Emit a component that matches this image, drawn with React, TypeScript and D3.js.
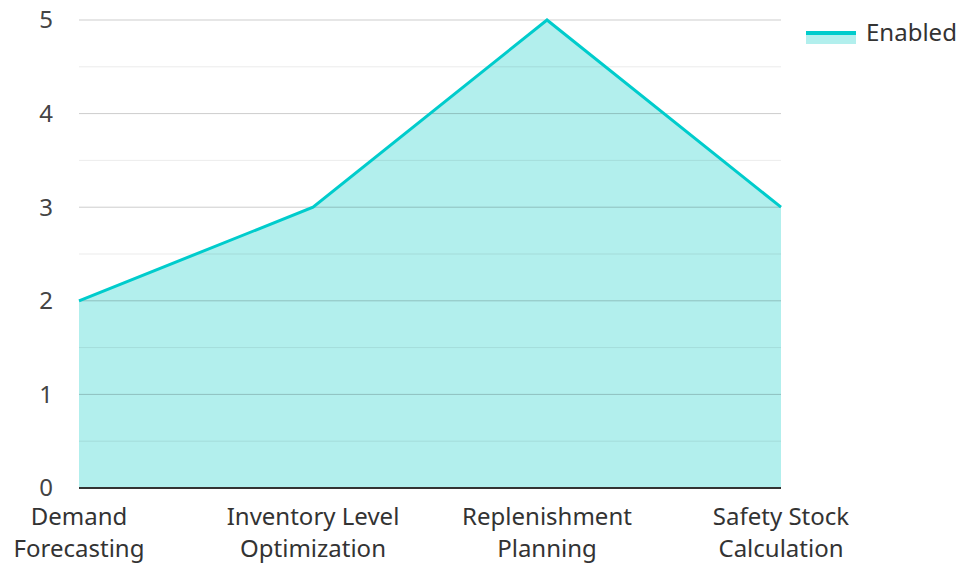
import React, { useRef, useEffect } from 'react';
import * as d3 from 'd3';

const categories = ['Demand\nForecasting', 'Inventory Level\nOptimization', 'Replenishment\nPlanning', 'Safety Stock\nCalculation'];
const enabledValues = [2, 3, 5, 3];
const yTicks = [0, 1, 2, 3, 4, 5];
const seriesName = 'Enabled';

const App = () => {
  const ref = useRef<SVGSVGElement | null>(null);

  useEffect(() => {
    if (!ref.current) return;
    const width = 962;
    const height = 563;
    const margin = { top: 20, right: 181, bottom: 75, left: 79 };
    const font = '"Noto Sans", "Open Sans", sans-serif';

    const svg = d3.select(ref.current);
    svg.selectAll('*').remove();
    svg.attr('width', width).attr('height', height).style('font-family', font);

    const x = d3.scalePoint<number>()
      .domain(d3.range(categories.length))
      .range([margin.left, width - margin.right]);
    const y = d3.scaleLinear().domain([0, 5]).range([height - margin.bottom, margin.top]);

    const data = enabledValues.map((v, i) => ({ i, v }));

    // area
    const area = d3.area<{ i: number; v: number }>()
      .x(d => x(d.i)!)
      .y0(y(0))
      .y1(d => y(d.v));
    svg.append('path').datum(data).attr('d', area).attr('fill', '#b2efed');

    // gridlines (minor + major), drawn over the fill
    const minor = d3.range(0.5, 5, 1);
    svg.append('g').selectAll('line').data(minor).join('line')
      .attr('x1', margin.left).attr('x2', width - margin.right)
      .attr('y1', d => y(d)).attr('y2', d => y(d))
      .attr('stroke', '#000').attr('stroke-opacity', 0.08).attr('stroke-width', 1);
    svg.append('g').selectAll('line').data(yTicks.filter(t => t > 0)).join('line')
      .attr('x1', margin.left).attr('x2', width - margin.right)
      .attr('y1', d => y(d)).attr('y2', d => y(d))
      .attr('stroke', '#000').attr('stroke-opacity', 0.2).attr('stroke-width', 1);

    // baseline
    svg.append('line')
      .attr('x1', margin.left).attr('x2', width - margin.right)
      .attr('y1', y(0)).attr('y2', y(0))
      .attr('stroke', '#333').attr('stroke-width', 2);

    // line
    const line = d3.line<{ i: number; v: number }>().x(d => x(d.i)!).y(d => y(d.v));
    svg.append('path').datum(data).attr('d', line)
      .attr('fill', 'none').attr('stroke', '#00cccc').attr('stroke-width', 3);

    // y labels
    svg.append('g').selectAll('text').data(yTicks).join('text')
      .attr('x', 53).attr('y', d => y(d)).attr('dy', '0.35em')
      .attr('text-anchor', 'end').attr('font-size', 24).attr('fill', '#444')
      .text(d => d);

    // x labels
    const xl = svg.append('g').selectAll('text').data(categories).join('text')
      .attr('text-anchor', 'middle').attr('font-size', 24).attr('fill', '#333')
      .attr('transform', (_, i) => `translate(${x(i)},${y(0) + 37})`);
    xl.each(function (d) {
      const parts = d.split('\n');
      d3.select(this).selectAll('tspan').data(parts).join('tspan')
        .attr('x', 0).attr('dy', (_, j) => (j === 0 ? 0 : 32)).text(p => p);
    });

    // legend
    const lg = svg.append('g').attr('transform', 'translate(806,33)');
    lg.append('rect').attr('x', 0).attr('y', 0).attr('width', 50).attr('height', 11).attr('fill', '#b2efed');
    lg.append('line').attr('x1', 0).attr('x2', 50).attr('y1', 0).attr('y2', 0)
      .attr('stroke', '#00cccc').attr('stroke-width', 4);
    lg.append('text').attr('x', 60).attr('y', 0).attr('dy', '0.35em')
      .attr('font-size', 24).attr('fill', '#333').text(seriesName);
  }, []);

  return <svg ref={ref} style={{ display: 'block', position: 'absolute', left: 0, top: 0 }} />;
};

export default App;
